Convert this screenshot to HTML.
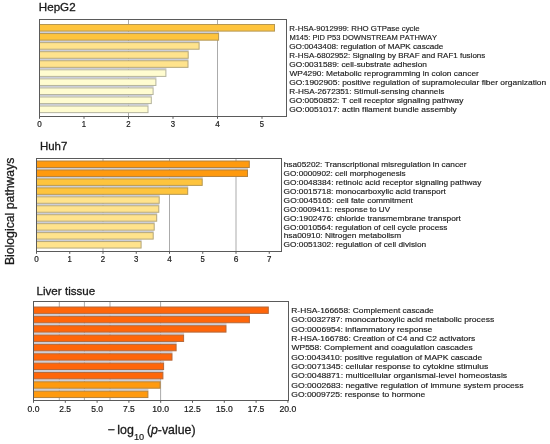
<!DOCTYPE html>
<html><head><meta charset="utf-8"><style>
html,body{margin:0;padding:0;background:#fff;width:550px;height:444px;overflow:hidden}
svg{display:block;will-change:transform;filter:blur(0.3px)}
text{font-family:"Liberation Sans",sans-serif;fill:#1a1a1a;font-variant-ligatures:none;font-kerning:none}
.ttl{font-size:11.3px;stroke:#1a1a1a;stroke-width:0.3px}
.tk{font-size:8.4px;stroke:#1a1a1a;stroke-width:0.2px}
.lb{font-size:7.6px;stroke:#1a1a1a;stroke-width:0.15px}
.ax{font-size:12.4px;stroke:#1a1a1a;stroke-width:0.3px}
</style></head><body>
<svg width="550" height="444" viewBox="0 0 550 444">
<rect width="550" height="444" fill="#fff"/>
<text x="38.85" y="10.9" class="ttl" textLength="36.74" lengthAdjust="spacingAndGlyphs">HepG2</text>
<line x1="128.5" y1="19.5" x2="128.5" y2="116.5" stroke="#ababab" stroke-width="1"/>
<line x1="217.5" y1="19.5" x2="217.5" y2="116.5" stroke="#ababab" stroke-width="1"/>
<rect x="39.5" y="31.6" width="179.6" height="1.46" fill="#CBCED9"/>
<rect x="39.5" y="40.66" width="160.1" height="1.46" fill="#CBCED9"/>
<rect x="39.5" y="49.72" width="149.2" height="1.46" fill="#CBCED9"/>
<rect x="39.5" y="58.78" width="149" height="1.46" fill="#CBCED9"/>
<rect x="39.5" y="67.84" width="126.9" height="1.46" fill="#CBCED9"/>
<rect x="39.5" y="76.9" width="116.9" height="1.46" fill="#CBCED9"/>
<rect x="39.5" y="85.96" width="114.1" height="1.46" fill="#CBCED9"/>
<rect x="39.5" y="95.02" width="112.3" height="1.46" fill="#CBCED9"/>
<rect x="39.5" y="104.08" width="109" height="1.46" fill="#CBCED9"/>
<rect x="39.5" y="24.5" width="235" height="6.6" fill="#FEC43D" stroke="#b49754" stroke-width="1"/>
<rect x="39.5" y="33.56" width="179.1" height="6.6" fill="#FEC43D" stroke="#b49754" stroke-width="1"/>
<rect x="39.5" y="42.62" width="159.6" height="6.6" fill="#FFE38C" stroke="#b4a67b" stroke-width="1"/>
<rect x="39.5" y="51.68" width="148.7" height="6.6" fill="#FFE38C" stroke="#b4a67b" stroke-width="1"/>
<rect x="39.5" y="60.74" width="148.5" height="6.6" fill="#FFE38C" stroke="#b4a67b" stroke-width="1"/>
<rect x="39.5" y="69.8" width="126.4" height="6.6" fill="#FFFCD0" stroke="#b4b39d" stroke-width="1"/>
<rect x="39.5" y="78.86" width="116.4" height="6.6" fill="#FFFCD0" stroke="#b4b39d" stroke-width="1"/>
<rect x="39.5" y="87.92" width="113.6" height="6.6" fill="#FFFCD0" stroke="#b4b39d" stroke-width="1"/>
<rect x="39.5" y="96.98" width="111.8" height="6.6" fill="#FFFCD0" stroke="#b4b39d" stroke-width="1"/>
<rect x="39.5" y="106.04" width="108.5" height="6.6" fill="#FFFCD0" stroke="#b4b39d" stroke-width="1"/>
<rect x="39.5" y="19.5" width="247" height="97" fill="none" stroke="#5a5a5a" stroke-width="1"/>
<line x1="39.5" y1="116.5" x2="39.5" y2="118.8" stroke="#5a5a5a" stroke-width="1"/>
<text x="37.23" y="127.1" class="tk" textLength="4.51" lengthAdjust="spacingAndGlyphs">0</text>
<line x1="84" y1="116.5" x2="84" y2="118.8" stroke="#5a5a5a" stroke-width="1"/>
<text x="81.8" y="127.1" class="tk" textLength="4.31" lengthAdjust="spacingAndGlyphs">1</text>
<line x1="128.5" y1="116.5" x2="128.5" y2="118.8" stroke="#5a5a5a" stroke-width="1"/>
<text x="126.22" y="127.1" class="tk" textLength="4.36" lengthAdjust="spacingAndGlyphs">2</text>
<line x1="173" y1="116.5" x2="173" y2="118.8" stroke="#5a5a5a" stroke-width="1"/>
<text x="170.84" y="127.1" class="tk" textLength="4.34" lengthAdjust="spacingAndGlyphs">3</text>
<line x1="217.5" y1="116.5" x2="217.5" y2="118.8" stroke="#5a5a5a" stroke-width="1"/>
<text x="215.24" y="127.1" class="tk" textLength="4.52" lengthAdjust="spacingAndGlyphs">4</text>
<line x1="262" y1="116.5" x2="262" y2="118.8" stroke="#5a5a5a" stroke-width="1"/>
<text x="259.84" y="127.1" class="tk" textLength="4.26" lengthAdjust="spacingAndGlyphs">5</text>
<text x="289.36" y="31.1" class="lb" textLength="130.24" lengthAdjust="spacingAndGlyphs">R-HSA-9012999: RHO GTPase cycle</text>
<text x="289.38" y="40.12" class="lb" textLength="147.66" lengthAdjust="spacingAndGlyphs">M145: PID P53 DOWNSTREAM PATHWAY</text>
<text x="289.29" y="49.14" class="lb" textLength="154.13" lengthAdjust="spacingAndGlyphs">GO:0043408: regulation of MAPK cascade</text>
<text x="289.35" y="58.16" class="lb" textLength="195.94" lengthAdjust="spacingAndGlyphs">R-HSA-6802952: Signaling by BRAF and RAF1 fusions</text>
<text x="289.28" y="67.18" class="lb" textLength="137.65" lengthAdjust="spacingAndGlyphs">GO:0031589: cell-substrate adhesion</text>
<text x="289.49" y="76.2" class="lb" textLength="189.31" lengthAdjust="spacingAndGlyphs">WP4290: Metabolic reprogramming in colon cancer</text>
<text x="289.27" y="85.22" class="lb" textLength="256.97" lengthAdjust="spacingAndGlyphs">GO:1902905: positive regulation of supramolecular fiber organization</text>
<text x="289.33" y="94.24" class="lb" textLength="154.97" lengthAdjust="spacingAndGlyphs">R-HSA-2672351: Stimuli-sensing channels</text>
<text x="289.28" y="103.26" class="lb" textLength="174.07" lengthAdjust="spacingAndGlyphs">GO:0050852: T cell receptor signaling pathway</text>
<text x="289.27" y="112.28" class="lb" textLength="167.51" lengthAdjust="spacingAndGlyphs">GO:0051017: actin filament bundle assembly</text>
<text x="39.96" y="149.6" class="ttl" textLength="27.42" lengthAdjust="spacingAndGlyphs">Huh7</text>
<line x1="103" y1="158.5" x2="103" y2="251.5" stroke="#ababab" stroke-width="1"/>
<line x1="169.5" y1="158.5" x2="169.5" y2="251.5" stroke="#ababab" stroke-width="1"/>
<line x1="236" y1="158.5" x2="236" y2="251.5" stroke="#ababab" stroke-width="1"/>
<rect x="36.5" y="168" width="211.5" height="1.45" fill="#CBCED9"/>
<rect x="36.5" y="176.95" width="166.2" height="1.45" fill="#CBCED9"/>
<rect x="36.5" y="185.9" width="151.7" height="1.45" fill="#CBCED9"/>
<rect x="36.5" y="194.85" width="123.2" height="1.45" fill="#CBCED9"/>
<rect x="36.5" y="203.8" width="122.8" height="1.45" fill="#CBCED9"/>
<rect x="36.5" y="212.75" width="120.7" height="1.45" fill="#CBCED9"/>
<rect x="36.5" y="221.7" width="118.2" height="1.45" fill="#CBCED9"/>
<rect x="36.5" y="230.65" width="117.2" height="1.45" fill="#CBCED9"/>
<rect x="36.5" y="239.6" width="105.1" height="1.45" fill="#CBCED9"/>
<rect x="36.5" y="161" width="212.8" height="6.5" fill="#FF9A0E" stroke="#b4823c" stroke-width="1"/>
<rect x="36.5" y="169.95" width="211" height="6.5" fill="#FF9A0E" stroke="#b4823c" stroke-width="1"/>
<rect x="36.5" y="178.9" width="165.7" height="6.5" fill="#FEC43D" stroke="#b49754" stroke-width="1"/>
<rect x="36.5" y="187.85" width="151.2" height="6.5" fill="#FEC43D" stroke="#b49754" stroke-width="1"/>
<rect x="36.5" y="196.8" width="122.7" height="6.5" fill="#FFE38C" stroke="#b4a67b" stroke-width="1"/>
<rect x="36.5" y="205.75" width="122.3" height="6.5" fill="#FFE38C" stroke="#b4a67b" stroke-width="1"/>
<rect x="36.5" y="214.7" width="120.2" height="6.5" fill="#FFE38C" stroke="#b4a67b" stroke-width="1"/>
<rect x="36.5" y="223.65" width="117.7" height="6.5" fill="#FFE38C" stroke="#b4a67b" stroke-width="1"/>
<rect x="36.5" y="232.6" width="116.7" height="6.5" fill="#FFE38C" stroke="#b4a67b" stroke-width="1"/>
<rect x="36.5" y="241.55" width="104.6" height="6.5" fill="#FFE38C" stroke="#b4a67b" stroke-width="1"/>
<rect x="36.5" y="158.5" width="245" height="93" fill="none" stroke="#5a5a5a" stroke-width="1"/>
<line x1="36.5" y1="251.5" x2="36.5" y2="253.8" stroke="#5a5a5a" stroke-width="1"/>
<text x="34.23" y="261.6" class="tk" textLength="4.51" lengthAdjust="spacingAndGlyphs">0</text>
<line x1="69.75" y1="251.5" x2="69.75" y2="253.8" stroke="#5a5a5a" stroke-width="1"/>
<text x="67.55" y="261.6" class="tk" textLength="4.31" lengthAdjust="spacingAndGlyphs">1</text>
<line x1="103" y1="251.5" x2="103" y2="253.8" stroke="#5a5a5a" stroke-width="1"/>
<text x="100.72" y="261.6" class="tk" textLength="4.36" lengthAdjust="spacingAndGlyphs">2</text>
<line x1="136.25" y1="251.5" x2="136.25" y2="253.8" stroke="#5a5a5a" stroke-width="1"/>
<text x="134.09" y="261.6" class="tk" textLength="4.34" lengthAdjust="spacingAndGlyphs">3</text>
<line x1="169.5" y1="251.5" x2="169.5" y2="253.8" stroke="#5a5a5a" stroke-width="1"/>
<text x="167.24" y="261.6" class="tk" textLength="4.52" lengthAdjust="spacingAndGlyphs">4</text>
<line x1="202.75" y1="251.5" x2="202.75" y2="253.8" stroke="#5a5a5a" stroke-width="1"/>
<text x="200.59" y="261.6" class="tk" textLength="4.26" lengthAdjust="spacingAndGlyphs">5</text>
<line x1="236" y1="251.5" x2="236" y2="253.8" stroke="#5a5a5a" stroke-width="1"/>
<text x="233.66" y="261.6" class="tk" textLength="4.67" lengthAdjust="spacingAndGlyphs">6</text>
<line x1="269.25" y1="251.5" x2="269.25" y2="253.8" stroke="#5a5a5a" stroke-width="1"/>
<text x="267.03" y="261.6" class="tk" textLength="4.41" lengthAdjust="spacingAndGlyphs">7</text>
<text x="283.72" y="167.1" class="lb" textLength="182.68" lengthAdjust="spacingAndGlyphs">hsa05202: Transcriptional misregulation in cancer</text>
<text x="283.64" y="176.02" class="lb" textLength="122.04" lengthAdjust="spacingAndGlyphs">GO:0000902: cell morphogenesis</text>
<text x="283.63" y="184.94" class="lb" textLength="197.66" lengthAdjust="spacingAndGlyphs">GO:0048384: retinoic acid receptor signaling pathway</text>
<text x="283.63" y="193.86" class="lb" textLength="162.18" lengthAdjust="spacingAndGlyphs">GO:0015718: monocarboxylic acid transport</text>
<text x="283.63" y="202.78" class="lb" textLength="129.2" lengthAdjust="spacingAndGlyphs">GO:0045165: cell fate commitment</text>
<text x="283.64" y="211.7" class="lb" textLength="106.45" lengthAdjust="spacingAndGlyphs">GO:0009411: response to UV</text>
<text x="283.63" y="220.62" class="lb" textLength="177.29" lengthAdjust="spacingAndGlyphs">GO:1902476: chloride transmembrane transport</text>
<text x="283.64" y="229.54" class="lb" textLength="163.85" lengthAdjust="spacingAndGlyphs">GO:0010564: regulation of cell cycle process</text>
<text x="283.72" y="238.46" class="lb" textLength="117.49" lengthAdjust="spacingAndGlyphs">hsa00910: Nitrogen metabolism</text>
<text x="283.63" y="247.38" class="lb" textLength="142.52" lengthAdjust="spacingAndGlyphs">GO:0051302: regulation of cell division</text>
<text x="36.55" y="294.6" class="ttl" textLength="58.67" lengthAdjust="spacingAndGlyphs">Liver tissue</text>
<line x1="59.3" y1="301.5" x2="59.3" y2="400.5" stroke="#ababab" stroke-width="1"/>
<line x1="84.4" y1="301.5" x2="84.4" y2="400.5" stroke="#ababab" stroke-width="1"/>
<line x1="110" y1="301.5" x2="110" y2="400.5" stroke="#ababab" stroke-width="1"/>
<line x1="160.6" y1="301.5" x2="160.6" y2="400.5" stroke="#ababab" stroke-width="1"/>
<rect x="33.5" y="313.9" width="216.4" height="1.95" fill="#CBCED9"/>
<rect x="33.5" y="323.25" width="193" height="1.95" fill="#CBCED9"/>
<rect x="33.5" y="332.6" width="150.6" height="1.95" fill="#CBCED9"/>
<rect x="33.5" y="341.95" width="143.1" height="1.95" fill="#CBCED9"/>
<rect x="33.5" y="351.3" width="139" height="1.95" fill="#CBCED9"/>
<rect x="33.5" y="360.65" width="130.6" height="1.95" fill="#CBCED9"/>
<rect x="33.5" y="370" width="129.9" height="1.95" fill="#CBCED9"/>
<rect x="33.5" y="379.35" width="127.1" height="1.95" fill="#CBCED9"/>
<rect x="33.5" y="388.7" width="114.9" height="1.95" fill="#CBCED9"/>
<rect x="33.5" y="307" width="234.8" height="6.4" fill="#FF660A" stroke="#b4683a" stroke-width="1"/>
<rect x="33.5" y="316.35" width="215.9" height="6.4" fill="#FF660A" stroke="#b4683a" stroke-width="1"/>
<rect x="33.5" y="325.7" width="192.5" height="6.4" fill="#FF660A" stroke="#b4683a" stroke-width="1"/>
<rect x="33.5" y="335.05" width="150.1" height="6.4" fill="#FF660A" stroke="#b4683a" stroke-width="1"/>
<rect x="33.5" y="344.4" width="142.6" height="6.4" fill="#FF660A" stroke="#b4683a" stroke-width="1"/>
<rect x="33.5" y="353.75" width="138.5" height="6.4" fill="#FF660A" stroke="#b4683a" stroke-width="1"/>
<rect x="33.5" y="363.1" width="130.1" height="6.4" fill="#FF660A" stroke="#b4683a" stroke-width="1"/>
<rect x="33.5" y="372.45" width="129.4" height="6.4" fill="#FF660A" stroke="#b4683a" stroke-width="1"/>
<rect x="33.5" y="381.8" width="126.6" height="6.4" fill="#FF9A0E" stroke="#b4823c" stroke-width="1"/>
<rect x="33.5" y="391.15" width="114.4" height="6.4" fill="#FF9A0E" stroke="#b4823c" stroke-width="1"/>
<rect x="33.5" y="301.5" width="255" height="99" fill="none" stroke="#5a5a5a" stroke-width="1"/>
<line x1="33.5" y1="400.5" x2="33.5" y2="402.8" stroke="#5a5a5a" stroke-width="1"/>
<text x="27.54" y="411.6" class="tk" textLength="11.89" lengthAdjust="spacingAndGlyphs">0.0</text>
<line x1="65.3" y1="400.5" x2="65.3" y2="402.8" stroke="#5a5a5a" stroke-width="1"/>
<text x="59.32" y="411.6" class="tk" textLength="11.78" lengthAdjust="spacingAndGlyphs">2.5</text>
<line x1="97.1" y1="400.5" x2="97.1" y2="402.8" stroke="#5a5a5a" stroke-width="1"/>
<text x="91.23" y="411.6" class="tk" textLength="11.81" lengthAdjust="spacingAndGlyphs">5.0</text>
<line x1="128.9" y1="400.5" x2="128.9" y2="402.8" stroke="#5a5a5a" stroke-width="1"/>
<text x="122.98" y="411.6" class="tk" textLength="11.72" lengthAdjust="spacingAndGlyphs">7.5</text>
<line x1="160.7" y1="400.5" x2="160.7" y2="402.8" stroke="#5a5a5a" stroke-width="1"/>
<text x="152.31" y="411.6" class="tk" textLength="16.78" lengthAdjust="spacingAndGlyphs">10.0</text>
<line x1="192.5" y1="400.5" x2="192.5" y2="402.8" stroke="#5a5a5a" stroke-width="1"/>
<text x="184.12" y="411.6" class="tk" textLength="16.63" lengthAdjust="spacingAndGlyphs">12.5</text>
<line x1="224.3" y1="400.5" x2="224.3" y2="402.8" stroke="#5a5a5a" stroke-width="1"/>
<text x="215.91" y="411.6" class="tk" textLength="16.78" lengthAdjust="spacingAndGlyphs">15.0</text>
<line x1="256.1" y1="400.5" x2="256.1" y2="402.8" stroke="#5a5a5a" stroke-width="1"/>
<text x="247.72" y="411.6" class="tk" textLength="16.63" lengthAdjust="spacingAndGlyphs">17.5</text>
<line x1="287.9" y1="400.5" x2="287.9" y2="402.8" stroke="#5a5a5a" stroke-width="1"/>
<text x="279.46" y="411.6" class="tk" textLength="16.83" lengthAdjust="spacingAndGlyphs">20.0</text>
<text x="291.31" y="312.9" class="lb" textLength="142.47" lengthAdjust="spacingAndGlyphs">R-HSA-166658: Complement cascade</text>
<text x="291.25" y="322.27" class="lb" textLength="203" lengthAdjust="spacingAndGlyphs">GO:0032787: monocarboxylic acid metabolic process</text>
<text x="291.25" y="331.64" class="lb" textLength="141.14" lengthAdjust="spacingAndGlyphs">GO:0006954: inflammatory response</text>
<text x="291.3" y="341.01" class="lb" textLength="183.98" lengthAdjust="spacingAndGlyphs">R-HSA-166786: Creation of C4 and C2 activators</text>
<text x="291.47" y="350.38" class="lb" textLength="181.24" lengthAdjust="spacingAndGlyphs">WP558: Complement and coagulation cascades</text>
<text x="291.25" y="359.75" class="lb" textLength="190.95" lengthAdjust="spacingAndGlyphs">GO:0043410: positive regulation of MAPK cascade</text>
<text x="291.24" y="369.12" class="lb" textLength="197.14" lengthAdjust="spacingAndGlyphs">GO:0071345: cellular response to cytokine stimulus</text>
<text x="291.24" y="378.49" class="lb" textLength="215.94" lengthAdjust="spacingAndGlyphs">GO:0048871: multicellular organismal-level homeostasis</text>
<text x="291.24" y="387.86" class="lb" textLength="232.23" lengthAdjust="spacingAndGlyphs">GO:0002683: negative regulation of immune system process</text>
<text x="291.25" y="397.23" class="lb" textLength="134.09" lengthAdjust="spacingAndGlyphs">GO:0009725: response to hormone</text>
<text class="ax" transform="translate(14.4,211.35) rotate(-90)" text-anchor="middle" textLength="107.5" lengthAdjust="spacingAndGlyphs">Biological pathways</text>
<text class="ax" x="107.6" y="433.5">&#8722;</text>
<text class="ax" x="117.3" y="433.5">log</text>
<text x="133.9" y="439.7" style="font-size:9.2px;stroke:#1a1a1a;stroke-width:0.2px">10</text>
<text class="ax" x="146.9" y="433.5" textLength="48.6" lengthAdjust="spacingAndGlyphs">(<tspan font-style="italic">p</tspan>-value)</text>
</svg>
</body></html>
